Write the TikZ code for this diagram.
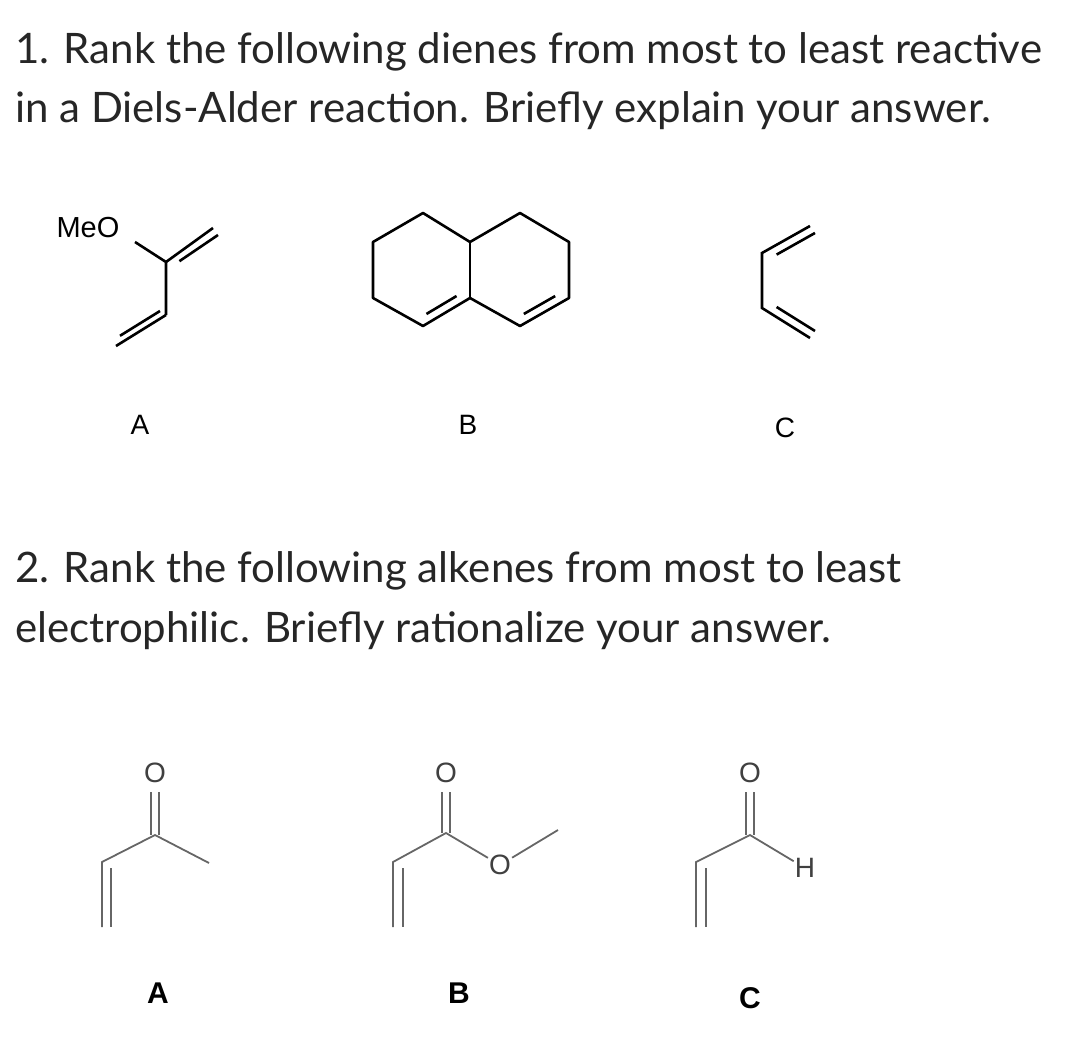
\documentclass[tikz,border=0pt]{standalone}
\usepackage{fontspec}
\usetikzlibrary{calc}
\setmainfont{Lato}
\newfontfamily\arialf{Liberation Sans}
\begin{document}
\begin{tikzpicture}[x=1pt,y=-1pt,
  q/.style={anchor=base west,inner sep=0,font=\fontsize{42}{48}\selectfont,text=black!85},
  lab/.style={font=\arialf\fontsize{28}{32}\selectfont},
  blab/.style={font=\arialf\bfseries\fontsize{30}{34}\selectfont},
  atom/.style={font=\arialf\fontsize{28}{32}\selectfont,text=black!75,inner sep=1pt},
  bd/.style={line width=2.6pt,black},
  gb/.style={line width=1.8pt,black!60}]
\useasboundingbox (0,0) rectangle (1080,1049);
\node[q] (t1) at (15,64) {1. Rank the following dienes from most to least reactive};
\node[q] (t2) at (15,122) {in a Diels-Alder reaction. Briefly explain your answer.};
\node[q] (t3) at (15,582) {2. Rank the following alkenes from most to least};
\node[q] (t4) at (15,642) {electrophilic. Briefly rationalize your answer.};
% top A
\node[font=\arialf\fontsize{29}{32}\selectfont,inner sep=0] (meo) at (88,228) {MeO};
\coordinate (a1) at (135,242); \coordinate (a2) at (166,262);
\coordinate (a3) at (213,228); \coordinate (a4) at (166,315); \coordinate (a5) at (116,346);
\draw[bd] (a1)--(a2)--(a4);
\draw[bd] (a2)--(a3);
\draw[bd] ($(a2)!0.2!(a3)+(4,6)$)--($(a3)+(5,7)$);
\draw[bd] (a4)--(a5);
\draw[bd] ($(a4)+(-6,-4)$)--($(a4)!0.8!(a5)+(-6,-4)$);
% top B
\coordinate (b1) at (423,213); \coordinate (b2) at (470,242); \coordinate (b3) at (520,213);
\coordinate (b4) at (569,242); \coordinate (b5) at (569,298); \coordinate (b6) at (520,326);
\coordinate (b7) at (470,298); \coordinate (b8) at (423,326); \coordinate (b9) at (373,298);
\coordinate (b10) at (373,242);
\draw[bd,line join=round] (b1)--(b2)--(b3)--(b4)--(b5)--(b6)--(b7)--(b8)--(b9)--(b10)--cycle;
\draw[bd] (b2)--(b7);
\draw[bd] ($(b7)!0.18!(b8)+(-5,-7)$)--($(b7)!0.82!(b8)+(-5,-7)$);
\draw[bd] ($(b5)!0.18!(b6)+(-5,-7)$)--($(b5)!0.82!(b6)+(-5,-7)$);
% top C
\coordinate (c1) at (762,253); \coordinate (c2) at (762,308);
\coordinate (c3) at (810,226); \coordinate (c4) at (810,338);
\draw[bd] (c3)--(c1)--(c2)--(c4);
\draw[bd] ($(c1)!0.2!(c3)+(5,7)$)--($(c3)+(5,7)$);
\draw[bd] ($(c2)!0.2!(c4)+(5,-7)$)--($(c4)+(5,-7)$);
\node[lab] (la) at (140,425) {A};
\node[lab] (lb) at (468,425) {B};
\node[lab] (lc) at (785,428) {C};
% bottom A
\node[atom] (oa) at (155,773) {O};
\coordinate (k1) at (102,862); \coordinate (k2) at (155,835); \coordinate (k3) at (209,863);
\coordinate (k4) at (102,927);
\draw[gb] (k4)--(k1)--(k2)--(k3);
\draw[gb] (111,868)--(111,927);
\draw[gb] (151,835)--(151,792); \draw[gb] (159,835)--(159,792);
% bottom B
\node[atom] (ob) at (446,773) {O};
\node[atom] (oe) at (500,865) {O};
\coordinate (e1) at (393,862); \coordinate (e2) at (446,833); \coordinate (e3) at (558,830);
\coordinate (e4) at (393,927);
\draw[gb] (e4)--(e1)--(e2)--(oe);
\draw[gb] (oe)--(e3);
\draw[gb] (403,868)--(403,927);
\draw[gb] (442,833)--(442,792); \draw[gb] (450,833)--(450,792);
% bottom C
\node[atom] (oc) at (750,773) {O};
\node[atom] (hc) at (805,868) {H};
\coordinate (f1) at (696,862); \coordinate (f2) at (750,835); \coordinate (f4) at (696,927);
\draw[gb] (f4)--(f1)--(f2)--(hc);
\draw[gb] (706,868)--(706,927);
\draw[gb] (746,835)--(746,792); \draw[gb] (754,835)--(754,792);
\node[blab] (ba) at (158,993) {A};
\node[blab] (bb) at (459,993) {B};
\node[blab] (bc) at (750,998) {C};
\end{tikzpicture}
\end{document}
